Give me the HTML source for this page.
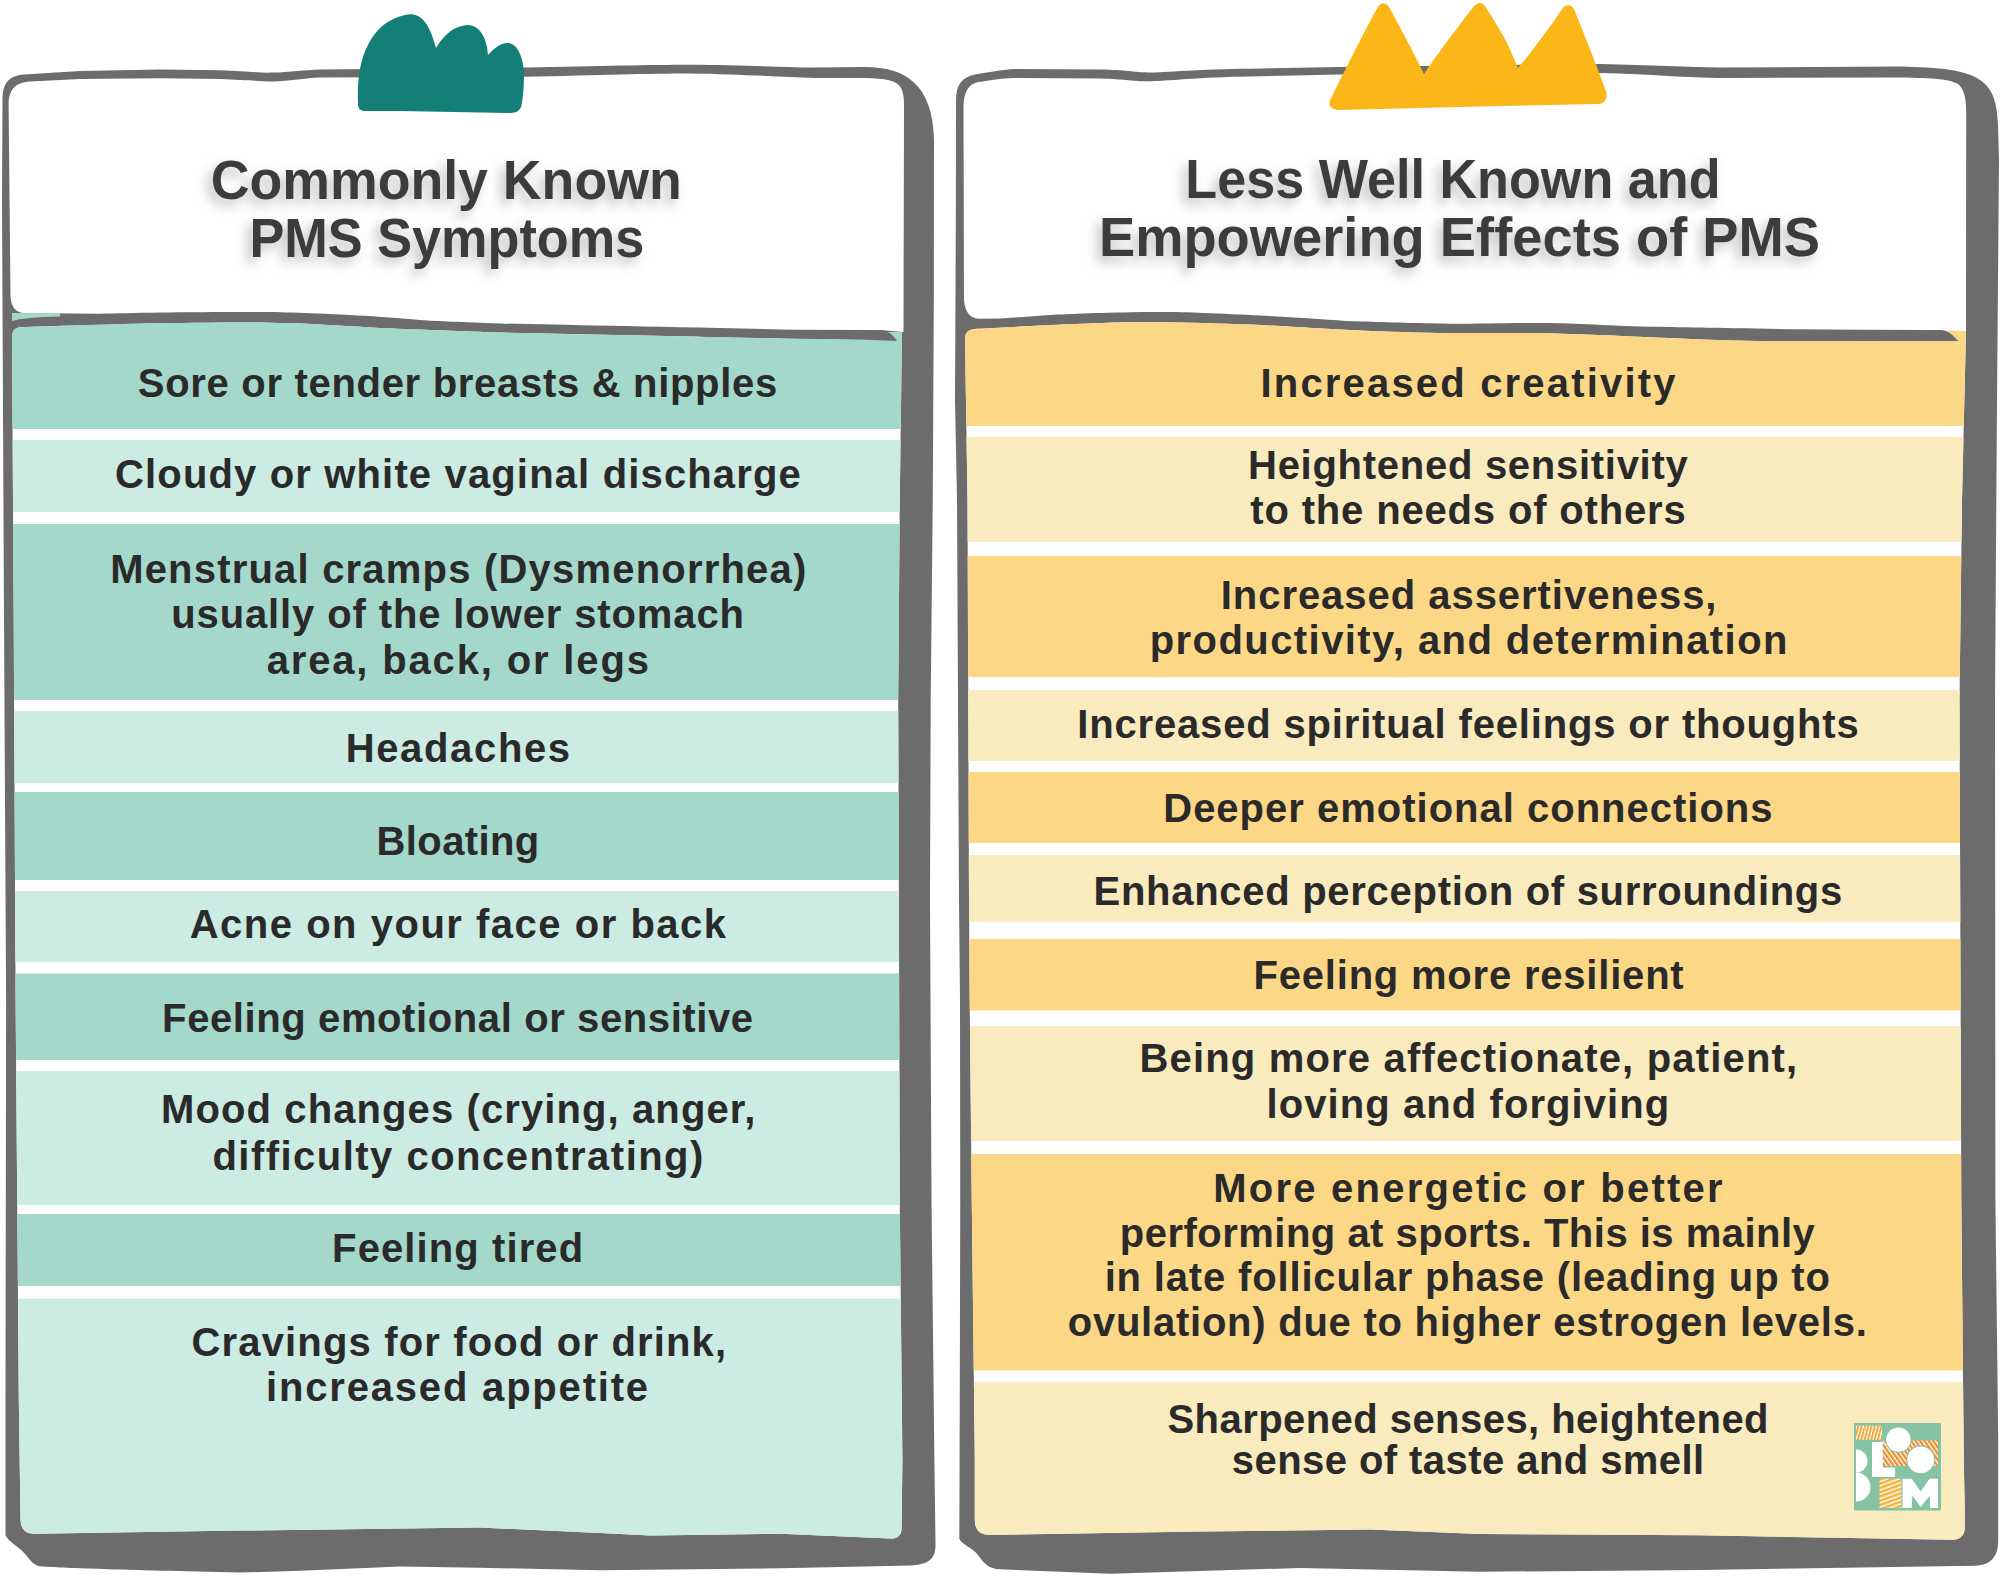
<!DOCTYPE html>
<html><head><meta charset="utf-8"><style>
html,body{margin:0;padding:0;background:#fff;width:2000px;height:1577px;overflow:hidden}
svg{display:block}
.r{font-family:"Liberation Sans",sans-serif;font-weight:bold;font-size:40px;fill:#2a2a2a;text-anchor:middle}
.t{font-family:"Liberation Sans",sans-serif;font-weight:bold;font-size:55px;fill:#3b3c3c;text-anchor:middle}
</style></head><body>
<svg width="2000" height="1577" viewBox="0 0 2000 1577">
<defs>
<filter id="sh" x="-20%" y="-50%" width="140%" height="200%"><feDropShadow dx="-5" dy="6" stdDeviation="6" flood-color="#000" flood-opacity="0.25"/></filter>
<clipPath id="cl"><path d="M12,338 C12,330 15,327 24,327 L50,326.25 C120,324 170,322.5 250,322.5 C300,323 330,325 350,326.25 C380,328 400,329 420,329.5 C450,330.5 470,331.5 500,332.5 L800,338.7 L860,339.5 L860,332 L902,332 L899.75,500 L898.2,700 L898.9,900 L899.75,1200 L902.4,1460 L901.6,1528 C901.6,1536 897,1539 890,1538.5 L780,1533.7 L650,1535.4 L600,1533 L480,1527.5 L240,1530.6 L36,1533.7 C26,1534 21,1530 20.5,1520 L18.8,1400 L15.6,1000 L13.6,600 Z"/></clipPath>
<clipPath id="cr"><path d="M965,340 C965,331 969,328.75 980,328.75 L1050,325 C1100,323 1120,322 1150,322 C1190,322.5 1220,323.5 1250,324.5 C1290,326.5 1320,328.5 1350,330 C1390,332 1420,332.5 1450,333.3 L1540,333.3 C1580,334 1620,336 1650,337.2 C1700,339.5 1740,341 1770,341.1 L1900,341.1 L1900,330.5 L1966,331 L1962,500 L1959.5,700 L1961.3,1200 L1963.8,1460 L1965,1525 C1965,1535 1961,1540 1952,1539.7 L1700,1535.3 L1480,1534 L1370,1529.6 L1200,1531.4 L990,1534.9 C980,1535 975,1530 974.8,1520 L974.8,1460 L971.75,1200 L969.7,1000 L969,900 L967.5,500 Z"/></clipPath>
</defs>
<path d="M2.5,100 C2.5,84 8,76 24,74.5 L80,71 L160,69.4 L220,70.2 C245,71 258,73 272,72.6 C290,72 305,70 320,69.4 L525,67.6 C600,66 650,64.7 690,64.7 C740,65 780,67 815,67.6 L865,67 C906,67 933,85 934,140 L933.8,300 L932.75,500 L930.7,700 L930,900 L931.5,1200 L934.4,1460 L935.5,1545 C935.5,1558 930,1564 912,1565.4 L780,1568.3 L600,1570.2 L480,1567.8 L400,1566.6 L300,1570.7 L240,1572.6 C120,1570 60,1568 42,1566.6 C34,1566 30,1560 26,1555 C20,1547 8,1542 5.5,1535 L5.5,1400 L6.1,1000 L3.9,600 L2,200 Z" fill="#6c6c6c"/>
<path d="M8.6,104 C9,90 15,82.5 30,81.6 L80,79 L160,78.2 L220,79 C245,80 258,81 272,81.4 C290,81 305,78 320,77.4 L525,76.8 C600,75 650,73.4 690,73.4 C740,74 780,77 815,78 L865,78 C885,78.5 897,80 901,88 C903.5,93 904,98 904,105 L903.5,332 L880,330 L800,329.8 C650,326.5 560,325 500,323.4 C460,322 440,321.5 420,320 C390,317.5 370,316 350,315 C300,312.5 270,312 250,312 C180,312 130,313 100,313.75 L25,313 C15,313 11,306 10.5,296 Z" fill="#fff"/>
<path d="M12,338 C12,330 15,327 24,327 L50,326.25 C120,324 170,322.5 250,322.5 C300,323 330,325 350,326.25 C380,328 400,329 420,329.5 C450,330.5 470,331.5 500,332.5 L800,338.7 L860,339.5 L860,332 L902,332 L899.75,500 L898.2,700 L898.9,900 L899.75,1200 L902.4,1460 L901.6,1528 C901.6,1536 897,1539 890,1538.5 L780,1533.7 L650,1535.4 L600,1533 L480,1527.5 L240,1530.6 L36,1533.7 C26,1534 21,1530 20.5,1520 L18.8,1400 L15.6,1000 L13.6,600 Z" fill="#fff"/>
<g clip-path="url(#cl)"><rect x="0" y="300" width="950" height="129" fill="#a3d8cb"/>
<rect x="0" y="440" width="950" height="72" fill="#cbebe3"/>
<rect x="0" y="524" width="950" height="176" fill="#a3d8cb"/>
<rect x="0" y="711" width="950" height="72" fill="#cbebe3"/>
<rect x="0" y="792" width="950" height="88" fill="#a3d8cb"/>
<rect x="0" y="891" width="950" height="71" fill="#cbebe3"/>
<rect x="0" y="973.5" width="950" height="86.5" fill="#a3d8cb"/>
<rect x="0" y="1071" width="950" height="134" fill="#cbebe3"/>
<rect x="0" y="1214" width="950" height="72" fill="#a3d8cb"/>
<rect x="0" y="1298.6" width="950" height="246.4000000000001" fill="#cbebe3"/></g>
<path d="M956,100 C956,85 962,77 975,74.5 C990,72 1000,70 1013,69 L1100,69.6 C1125,70 1135,72.5 1148,72.5 C1165,72.5 1200,69 1250,68.7 L1340,67 L1600,64 C1650,65 1690,67.4 1720,67.4 L1900,66.6 C1940,67.5 1965,70 1980,80 C1992,88 1997,100 1998,125 L1999,160 L1997,400 L1995,700 L1995.4,1200 L1998.2,1440 L1998.2,1540 C1998.2,1556 1992,1565 1975,1565.7 L1700,1570.1 L1480,1571.7 L1300,1568 L1110,1573.8 L1000,1569.3 C990,1569 985,1565 978,1555 C972,1547 962,1545 959.3,1538.8 L959.6,1460 L960.25,1200 L960,1000 L959,900 L957,500 L955,400 L955.9,200 Z" fill="#6c6c6c"/>
<path d="M963.5,106 C964,92 968,84.5 978,82 C992,80 1000,78.5 1013,77.9 L1100,78.4 C1125,79 1135,81.3 1148,81.3 C1165,81.3 1200,77 1250,76.5 L1340,74.5 L1600,73 C1650,74 1690,78 1720,78 L1900,77.4 C1935,78 1950,79 1958,84 C1964,89 1966,98 1966.2,110 L1966,331 L1890,330.5 L1800,329.4 C1720,328 1680,327.5 1650,326.8 C1600,325 1570,323 1540,322.9 C1500,323 1470,324 1450,323.75 C1400,323 1380,322 1350,321.25 C1300,318 1270,316 1250,315 C1200,312.5 1180,312 1150,312 C1100,312.5 1070,314 1050,315 L1000,318.5 L980,318.75 C970,318.75 965,312 964,300 Z" fill="#fff"/>
<path d="M965,340 C965,331 969,328.75 980,328.75 L1050,325 C1100,323 1120,322 1150,322 C1190,322.5 1220,323.5 1250,324.5 C1290,326.5 1320,328.5 1350,330 C1390,332 1420,332.5 1450,333.3 L1540,333.3 C1580,334 1620,336 1650,337.2 C1700,339.5 1740,341 1770,341.1 L1900,341.1 L1900,330.5 L1966,331 L1962,500 L1959.5,700 L1961.3,1200 L1963.8,1460 L1965,1525 C1965,1535 1961,1540 1952,1539.7 L1700,1535.3 L1480,1534 L1370,1529.6 L1200,1531.4 L990,1534.9 C980,1535 975,1530 974.8,1520 L974.8,1460 L971.75,1200 L969.7,1000 L969,900 L967.5,500 Z" fill="#fff"/>
<g clip-path="url(#cr)"><rect x="950" y="300" width="1050" height="126" fill="#fcd886"/>
<rect x="950" y="437" width="1050" height="105" fill="#f9ebbe"/>
<rect x="950" y="556" width="1050" height="121" fill="#fcd886"/>
<rect x="950" y="690" width="1050" height="71" fill="#f9ebbe"/>
<rect x="950" y="772" width="1050" height="71" fill="#fcd886"/>
<rect x="950" y="855" width="1050" height="67" fill="#f9ebbe"/>
<rect x="950" y="939" width="1050" height="71.5" fill="#fcd886"/>
<rect x="950" y="1026" width="1050" height="115" fill="#f9ebbe"/>
<rect x="950" y="1154" width="1050" height="216.5" fill="#fcd886"/>
<rect x="950" y="1382" width="1050" height="163" fill="#f9ebbe"/></g>
<path d="M700,333.5 L880,330 C888,330 893,335 897,341 L860,339.5 L700,336.5 Z" fill="#6c6c6c"/>
<path d="M1700,333 L1800,329.4 L1940,329.9 C1948,330 1953,335 1958.3,341.1 L1880,341.1 L1700,336 Z" fill="#6c6c6c"/>
<path d="M12,313 L60,313 L60,316.5 C40,317 22,318 12,321 Z" fill="#a3d8cb"/>
<path d="M358,104 C357,80 360,60 368,45 C376,30 385,20 405,15 C418,12 428,18 436,48 C445,33 455,26 467,25 C480,25 487,38 488,55 C495,47 502,43 507,43 C518,43 523,58 524,72 C524,85 523,100 521,107 C519,112 515,113 508,113 L400,111 L365,111 C360,111 358,108 358,104 Z" fill="#137f76"/>
<path d="M1330,101 C1332,96 1370,20 1378,7 C1381,2 1386,2 1389,7 C1395,18 1410,45 1424,74 C1440,50 1465,18 1474,6 C1478,2 1482,2 1485,6 C1494,20 1505,38 1508,45 L1518,68 C1535,48 1555,20 1562,9 C1566,4 1571,4 1574,9 C1585,36 1603,82 1606,91 C1608,100 1604,104 1598,104 L1500,106 L1340,110 C1332,110 1328,106 1330,101 Z" fill="#fbb617"/>

<defs>
<pattern id="p1" width="3.2" height="3.2" patternUnits="userSpaceOnUse" patternTransform="rotate(15)"><rect width="3.2" height="3.2" fill="#fff"/><rect width="1.9" height="3.2" fill="#f0a52c"/></pattern>
<pattern id="p2" width="3.6" height="3.6" patternUnits="userSpaceOnUse" patternTransform="rotate(-35)"><rect width="3.6" height="3.6" fill="#fff"/><rect width="2.3" height="3.6" fill="#eb8f2a"/></pattern>
<pattern id="p3" width="4" height="4" patternUnits="userSpaceOnUse" patternTransform="rotate(-20)"><rect width="4" height="4" fill="#fff"/><rect width="4" height="2.6" fill="#f2b33a"/></pattern>
</defs>
<g>
<rect x="1854" y="1423" width="87" height="87.5" fill="#86c3a4"/>
<rect x="1856" y="1425.7" width="26" height="14" fill="url(#p1)"/>
<rect x="1882.8" y="1440.4" width="55.2" height="25.6" fill="url(#p2)"/>
<rect x="1879.5" y="1478.7" width="21.8" height="29.3" fill="url(#p3)"/>
<path d="M1856,1449.5 A11.5,11.5 0 0 1 1856,1472.5 Z" fill="#fff"/>
<path d="M1856,1472.5 A14.5,14.5 0 0 1 1856,1501.5 Z" fill="#fff"/>
<path d="M1872,1442 L1882.8,1442 L1882.8,1467.6 L1895.1,1467.6 L1895.1,1477 L1872,1477 Z" fill="#fff"/>
<circle cx="1898.4" cy="1439.6" r="13.2" fill="#86c3a4"/>
<circle cx="1898.4" cy="1439.6" r="12.2" fill="#fff"/>
<circle cx="1920.7" cy="1459.8" r="14.4" fill="#86c3a4"/>
<circle cx="1920.7" cy="1459.8" r="13.4" fill="#fff"/>
<path d="M1902.5,1478.7 L1911.6,1478.7 L1920.7,1491.5 L1929.5,1478.7 L1938,1478.7 L1938,1508 L1930,1508 L1929.8,1495.6 L1920.7,1507 L1912.4,1495.6 L1911.6,1508 L1902.5,1508 Z" fill="#fff"/>
</g>
<text x="446.2" y="198.5" class="t" textLength="471.0" lengthAdjust="spacingAndGlyphs" filter="url(#sh)">Commonly Known</text>
<text x="446.9" y="256.5" class="t" textLength="394.8" lengthAdjust="spacingAndGlyphs" filter="url(#sh)">PMS Symptoms</text>
<text x="1452.9" y="197.9" class="t" textLength="535.2" lengthAdjust="spacingAndGlyphs" filter="url(#sh)">Less Well Known and</text>
<text x="1459.5" y="255.6" class="t" textLength="721.1" lengthAdjust="spacingAndGlyphs" filter="url(#sh)">Empowering Effects of PMS</text>
<text x="457.5" y="397.2" class="r" textLength="639.5" lengthAdjust="spacing">Sore or tender breasts &amp; nipples</text>
<text x="457.9" y="488.2" class="r" textLength="685.8" lengthAdjust="spacing">Cloudy or white vaginal discharge</text>
<text x="458.2" y="582.5" class="r" textLength="696.1" lengthAdjust="spacing">Menstrual cramps (Dysmenorrhea)</text>
<text x="457.6" y="628.2" class="r" textLength="572.7" lengthAdjust="spacing">usually of the lower stomach</text>
<text x="457.8" y="673.9" class="r" textLength="382.2" lengthAdjust="spacing">area, back, or legs</text>
<text x="457.9" y="761.6" class="r" textLength="224.4" lengthAdjust="spacing">Headaches</text>
<text x="457.9" y="854.9" class="r" textLength="162.6" lengthAdjust="spacing">Bloating</text>
<text x="457.9" y="938.4" class="r" textLength="536.4" lengthAdjust="spacing">Acne on your face or back</text>
<text x="457.6" y="1031.6" class="r" textLength="591.0" lengthAdjust="spacing">Feeling emotional or sensitive</text>
<text x="458.2" y="1123.2" class="r" textLength="594.3" lengthAdjust="spacing">Mood changes (crying, anger,</text>
<text x="457.9" y="1170.4" class="r" textLength="490.9" lengthAdjust="spacing">difficulty concentrating)</text>
<text x="457.6" y="1262.2" class="r" textLength="251.0" lengthAdjust="spacing">Feeling tired</text>
<text x="458.8" y="1355.8" class="r" textLength="534.7" lengthAdjust="spacing">Cravings for food or drink,</text>
<text x="457.1" y="1401.3" class="r" textLength="382.0" lengthAdjust="spacing">increased appetite</text>
<text x="1468.0" y="397.2" class="r" textLength="415.0" lengthAdjust="spacing">Increased creativity</text>
<text x="1467.9" y="479.2" class="r" textLength="439.7" lengthAdjust="spacing">Heightened sensitivity</text>
<text x="1468.0" y="524.2" class="r" textLength="435.5" lengthAdjust="spacing">to the needs of others</text>
<text x="1468.6" y="609.0" class="r" textLength="495.8" lengthAdjust="spacing">Increased assertiveness,</text>
<text x="1468.6" y="654.0" class="r" textLength="637.7" lengthAdjust="spacing">productivity, and determination</text>
<text x="1468.0" y="738.1" class="r" textLength="781.5" lengthAdjust="spacing">Increased spiritual feelings or thoughts</text>
<text x="1467.9" y="821.8" class="r" textLength="609.3" lengthAdjust="spacing">Deeper emotional connections</text>
<text x="1467.9" y="905.0" class="r" textLength="748.7" lengthAdjust="spacing">Enhanced perception of surroundings</text>
<text x="1468.6" y="989.1" class="r" textLength="430.2" lengthAdjust="spacing">Feeling more resilient</text>
<text x="1468.3" y="1071.8" class="r" textLength="657.7" lengthAdjust="spacing">Being more affectionate, patient,</text>
<text x="1467.9" y="1118.2" class="r" textLength="402.7" lengthAdjust="spacing">loving and forgiving</text>
<text x="1467.9" y="1201.8" class="r" textLength="509.3" lengthAdjust="spacing">More energetic or better</text>
<text x="1467.3" y="1246.9" class="r" textLength="695.1" lengthAdjust="spacing">performing at sports. This is mainly</text>
<text x="1467.3" y="1291.2" class="r" textLength="725.3" lengthAdjust="spacing">in late follicular phase (leading up to</text>
<text x="1467.3" y="1335.5" class="r" textLength="799.1" lengthAdjust="spacing">ovulation) due to higher estrogen levels.</text>
<text x="1468.0" y="1433.3" class="r" textLength="601.1" lengthAdjust="spacing">Sharpened senses, heightened</text>
<text x="1468.0" y="1474.3" class="r" textLength="472.4" lengthAdjust="spacing">sense of taste and smell</text>
</svg>
</body></html>
